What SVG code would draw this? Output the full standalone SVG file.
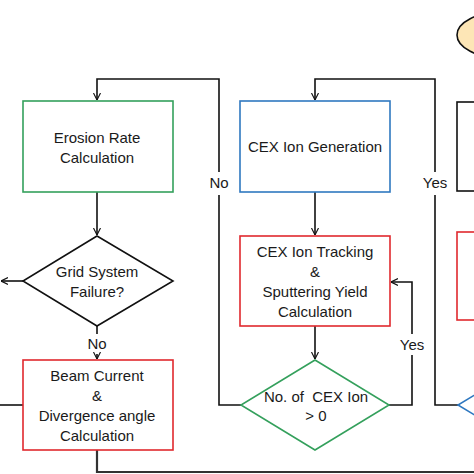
<svg xmlns="http://www.w3.org/2000/svg" width="474" height="474" viewBox="0 0 474 474">
<style>
  .box { fill: #ffffff; stroke-width: 1.6; }
  .green { stroke: #34a05c; }
  .blue { stroke: #2f78c0; }
  .red { stroke: #e0282e; }
  .black { stroke: #111111; }
  .conn { fill: none; stroke: #111111; stroke-width: 1.6; }
  text { font-family: "Liberation Sans", Arial, sans-serif; font-size: 15px; fill: #1a1a1a; text-anchor: middle; }
</style>
<defs>
  <marker id="arr" markerUnits="userSpaceOnUse" viewBox="0 0 10 10" refX="10" refY="5" markerWidth="7" markerHeight="10" orient="auto">
    <path d="M0,0 L10,5 L0,10" fill="none" stroke="#111111" stroke-width="1.6"/>
  </marker>
</defs>

<g id="connectors">
  <path class="conn" d="M241,405 H219 V195 M219,172 V79 H97 V100" marker-end="url(#arr)"/>
  <path class="conn" d="M458,405 H435 V195 M435,172 V79 H315 V100" marker-end="url(#arr)"/>
  <path class="conn" d="M389,405 H412 V355 M412,334 V282 H391" marker-end="url(#arr)"/>
  <path class="conn" d="M97,192 V235" marker-end="url(#arr)"/>
  <path class="conn" d="M23,281 H1" marker-end="url(#arr)"/>
  <path class="conn" d="M97,326 V334 M97,354 V359" marker-end="url(#arr)"/>
  <path class="conn" d="M0,405 H23"/>
  <path class="conn" d="M97,450 V472 H474" style="stroke:#333333;stroke-width:2.2"/>
  <path class="conn" d="M315,192 V235" marker-end="url(#arr)"/>
  <path class="conn" d="M315,326 V359" marker-end="url(#arr)"/>
  <text x="219" y="188">No</text>
  <text x="435" y="188">Yes</text>
  <text x="412" y="350">Yes</text>
  <text x="97" y="349">No</text>
</g>

<g id="start">
  <ellipse cx="502" cy="35" rx="45" ry="23" fill="#fde6b6" stroke="#111111" stroke-width="1.6"/>
</g>

<g id="erosion">
  <rect class="box green" x="23" y="101" width="150" height="91"/>
  <text x="97" y="143">Erosion Rate</text>
  <text x="97" y="163">Calculation</text>
</g>

<g id="grid">
  <polygon class="box black" points="97,236 173,281 97,326 23,281"/>
  <text x="97" y="277">Grid System</text>
  <text x="97" y="297">Failure?</text>
</g>

<g id="beam">
  <rect class="box red" x="23" y="360" width="150" height="90"/>
  <text x="97" y="381">Beam Current</text>
  <text x="97" y="401">&amp;</text>
  <text x="97" y="421">Divergence angle</text>
  <text x="97" y="441">Calculation</text>
</g>

<g id="cexgen">
  <rect class="box blue" x="240" y="101" width="150" height="91"/>
  <text x="315" y="152">CEX Ion Generation</text>
</g>

<g id="cextrack">
  <rect class="box red" x="240" y="236" width="150" height="90"/>
  <text x="315" y="257">CEX Ion Tracking</text>
  <text x="315" y="277">&amp;</text>
  <text x="315" y="297">Sputtering Yield</text>
  <text x="315" y="317">Calculation</text>
</g>

<g id="cexcount">
  <polygon class="box green" points="315,360 389,405 315,450 241,405"/>
  <text x="316" y="402" xml:space="preserve" style="white-space:pre">No. of  CEX Ion</text>
  <text x="316" y="421">&gt; 0</text>
</g>

<g id="rightbox">
  <rect class="box black" x="457" y="102" width="60" height="89"/>
</g>

<g id="rightred">
  <rect class="box red" x="457" y="232" width="60" height="88"/>
</g>

<g id="rightdiamond">
  <polygon class="box blue" points="533,360 608,405 533,450 458,405"/>
</g>
</svg>
